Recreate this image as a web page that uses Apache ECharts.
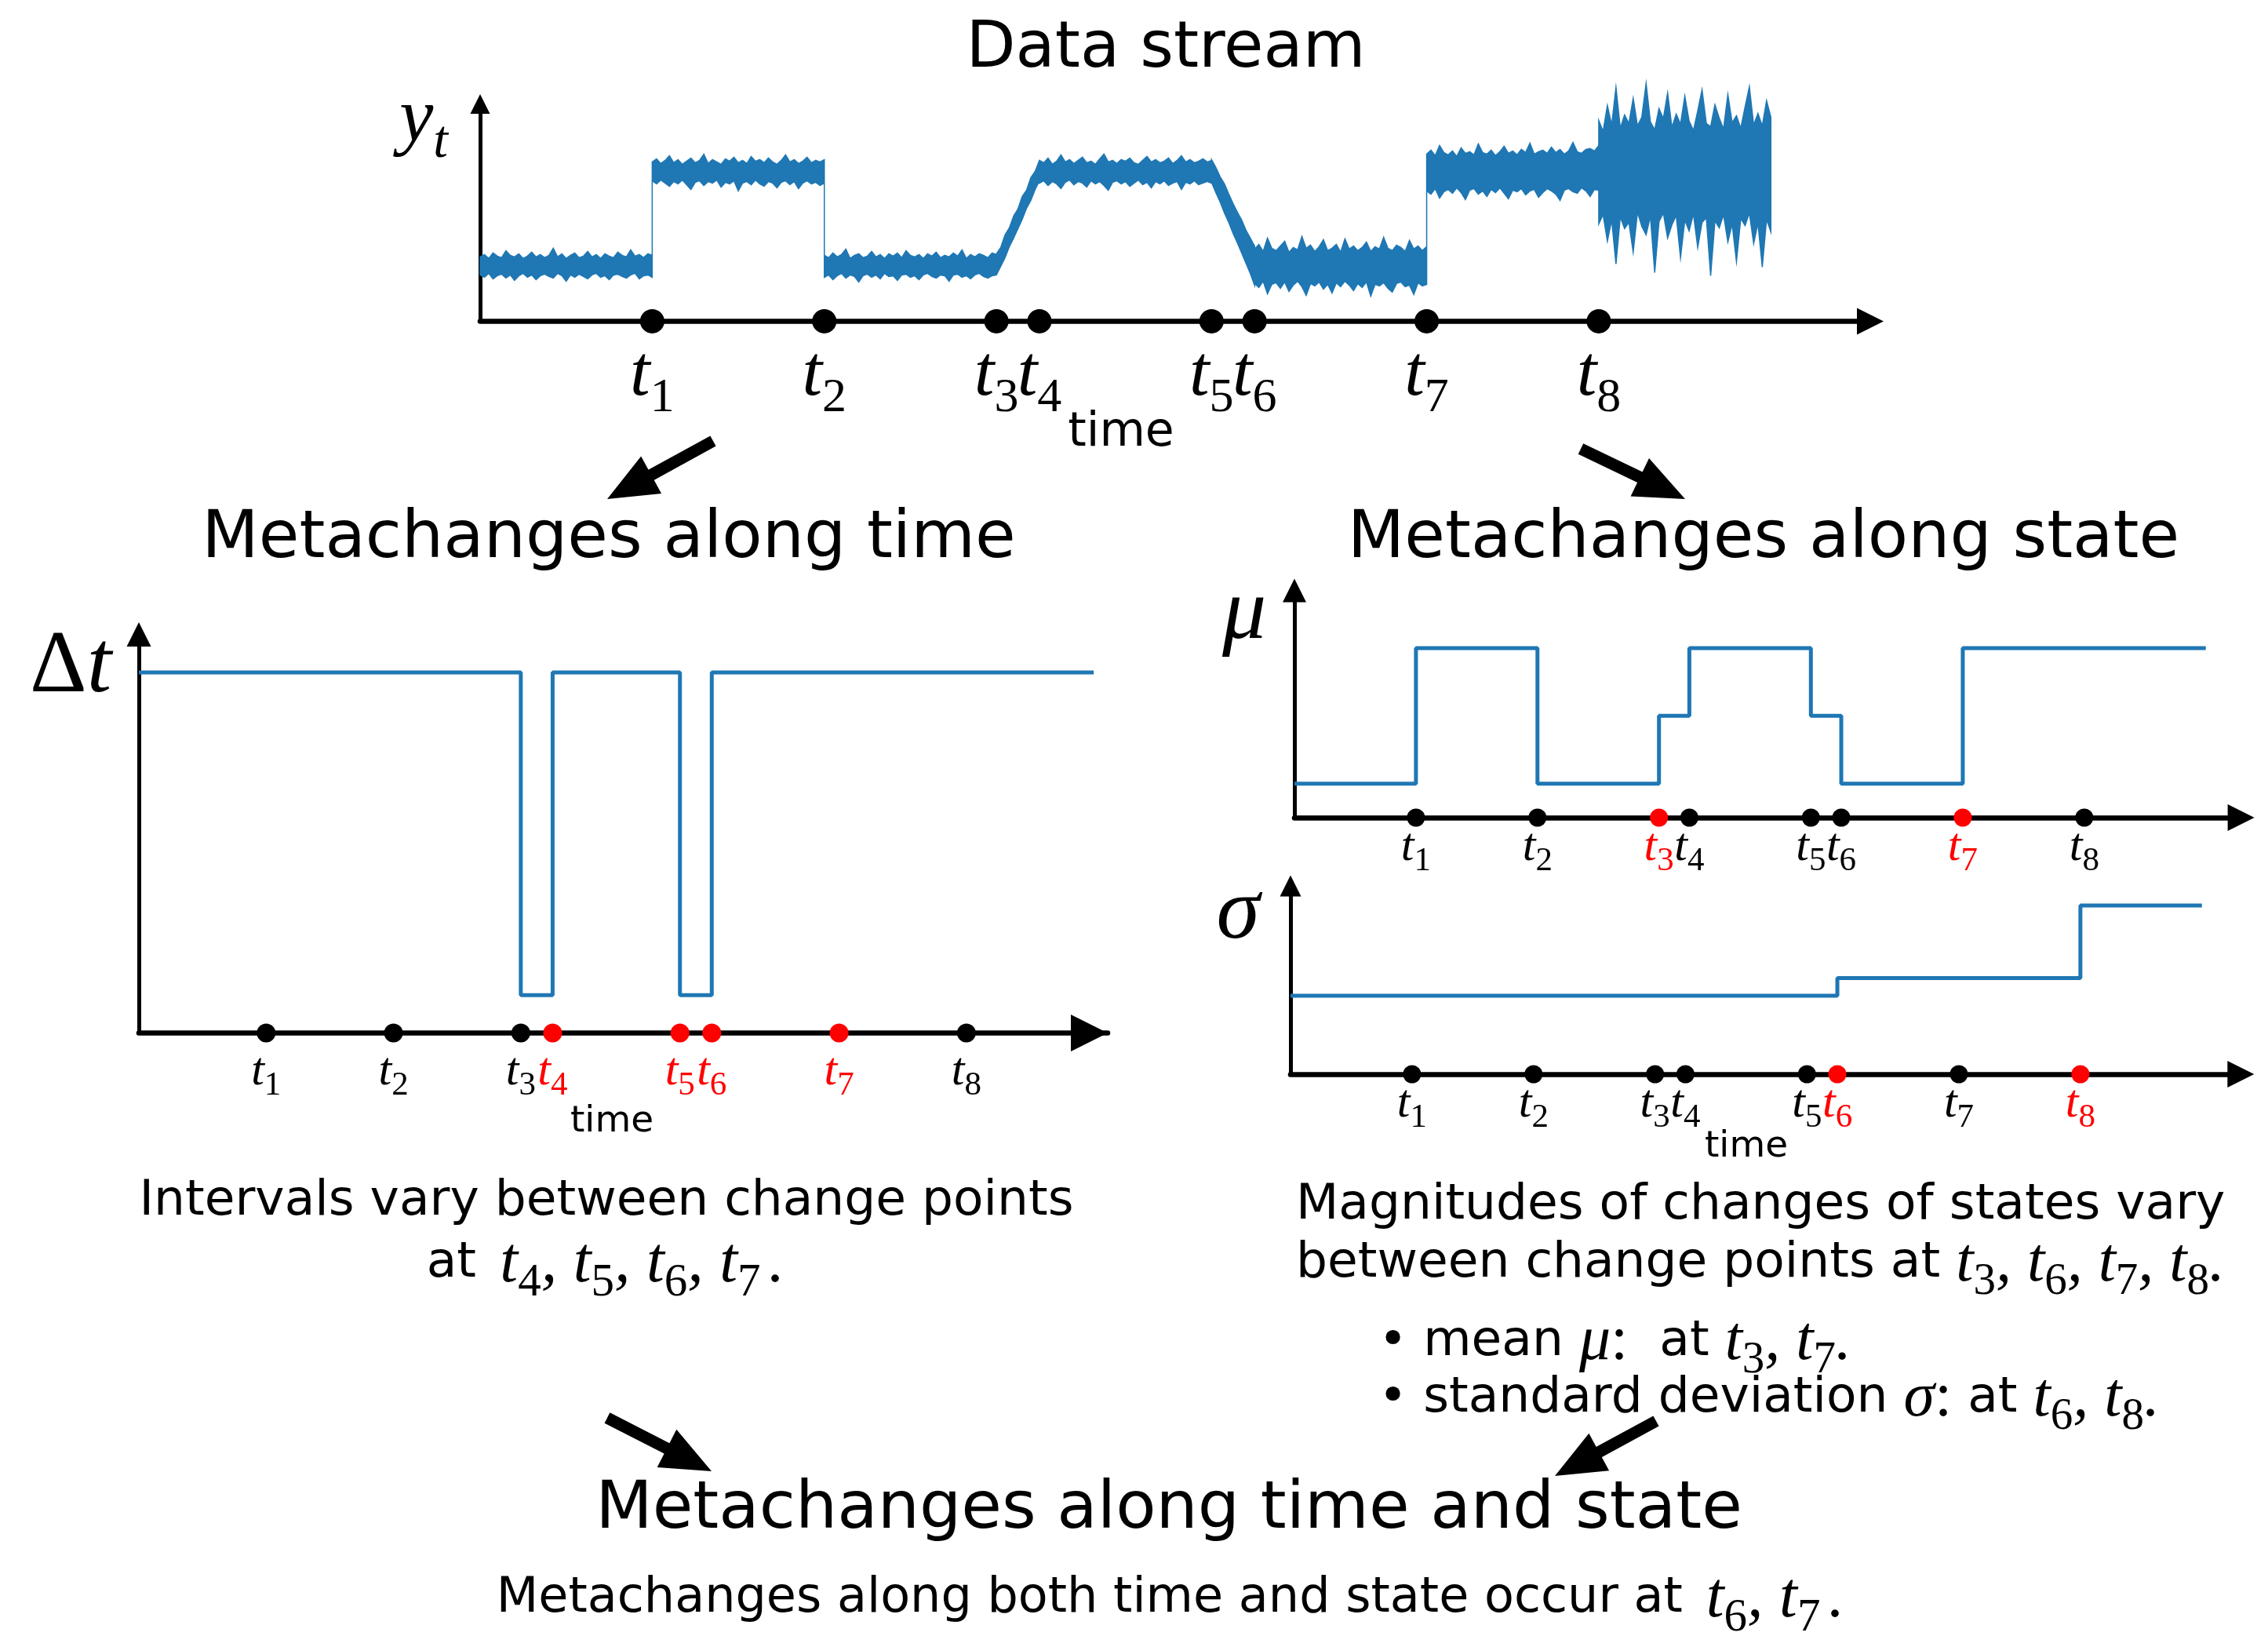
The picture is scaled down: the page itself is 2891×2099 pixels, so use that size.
<!DOCTYPE html>
<html><head><meta charset="utf-8">
<script src="https://cdn.jsdelivr.net/npm/echarts@6/dist/echarts.min.js"></script>
<style>html,body{margin:0;padding:0;background:#fff}#c{width:2891px;height:2099px}</style>
</head><body><div id="c"></div>
<script>
// ================= DATA =================
const changePoints = [1, 2, 3, 3.25, 4.25, 4.5, 5.5, 6.5];
const changeLabels = ['1', '2', '3', '4', '5', '6', '7', '8'];

// Data stream y_t : segments between change points, noise envelope (upper / lower)
const segStart = [0, 1, 2, 3, 3.25, 4.25, 4.5, 5.5, 6.5];
const segEnd   = [1, 2, 3, 3.25, 4.25, 4.5, 5.5, 6.5, 7.5];
const streamUpper = [
  [8.2,8.5,8.0,8.7,8.3,8.1,9.0,8.4,8.2,8.6,8.0,8.3,8.8,8.2,8.5,8.1,8.4,9.3,8.2,8.6,8.0,8.4,8.7,8.1,8.3,8.9,8.2,8.5,8.0,8.6,8.3,8.1,8.8,8.4,8.2,9.1,8.3,8.5,8.1,8.6,8.4],
  [20.3,20.7,20.1,20.5,21.1,20.2,20.6,20.0,20.4,20.8,20.2,20.5,21.3,20.1,20.6,20.3,20.0,20.7,20.4,20.9,20.2,20.5,20.1,21.0,20.4,20.6,20.2,20.8,20.3,20.0,20.5,21.2,20.3,20.6,20.1,20.4,20.9,20.2,20.5,20.3,20.6],
  [8.4,8.1,8.7,8.2,8.5,9.2,8.0,8.4,8.6,8.1,8.3,8.9,8.2,8.5,8.0,8.6,8.3,8.7,8.1,9.0,8.4,8.2,8.5,8.0,8.6,8.3,8.8,8.1,8.4,8.2,8.7,8.3,9.1,8.0,8.5,8.2,8.6,8.4,8.1,8.7,8.5],
  [8.6,9.4,11.0,11.9,13.4,14.3,15.9,16.7,18.3,19.1,20.5],
  [20.5,20.2,20.8,20.0,20.4,21.2,20.3,20.6,20.1,20.5,20.9,20.2,20.4,20.0,20.7,21.3,20.3,20.5,20.1,20.6,20.4,20.8,20.2,20.0,20.5,21.0,20.3,20.6,20.2,20.4,20.8,20.1,20.5,21.1,20.3,20.6,20.2,20.4,20.7,20.3,20.5],
  [20.6,19.6,18.4,17.5,16.2,15.0,13.9,12.9,11.6,10.6,9.6],
  [9.2,9.8,8.9,10.6,9.3,9.0,9.6,10.2,8.8,9.4,9.1,10.8,9.3,9.7,8.9,9.5,10.4,9.0,9.3,9.8,8.8,10.5,9.2,9.6,9.0,9.4,10.1,8.9,9.5,9.2,10.7,9.3,9.0,9.7,9.4,8.9,10.3,9.2,9.6,9.0,9.5],
  [21.3,21.8,21.1,22.4,21.5,21.2,21.7,21.0,22.1,21.4,21.6,21.2,22.6,21.5,21.3,21.8,21.1,21.6,22.3,21.4,21.7,21.2,21.9,21.5,22.7,21.3,21.6,21.8,21.4,22.2,21.5,21.9,21.3,21.7,22.8,21.6,21.4,21.9,22.0,21.7,22.4],
  [25.6,24.2,27.5,25.0,29.8,24.6,26.3,25.2,28.4,24.9,26.0,30.3,25.4,24.4,27.1,25.8,29.1,24.7,26.4,25.1,28.7,25.5,24.3,26.8,29.5,25.2,24.8,27.6,25.9,24.5,28.9,25.3,26.2,24.6,27.3,29.9,25.0,26.5,24.9,28.1,26.0]
];
const streamLower = [
  [5.9,5.6,6.1,5.4,5.8,6.0,5.5,5.9,5.2,5.8,6.1,5.6,5.9,5.3,5.8,6.0,5.7,5.5,6.1,5.8,5.1,5.9,5.6,6.0,5.7,5.4,5.9,6.1,5.6,5.8,5.3,5.9,6.0,5.7,5.5,5.9,6.1,5.4,5.8,5.9,5.6],
  [17.9,17.5,18.0,17.6,17.2,17.8,17.5,18.0,17.4,16.8,17.7,17.9,17.3,17.8,17.6,18.0,17.1,17.7,17.5,17.9,16.6,17.6,17.8,17.4,18.0,17.5,17.2,17.8,17.6,17.0,17.7,17.9,17.4,17.8,16.9,17.6,17.9,17.5,17.7,17.3,17.6],
  [5.6,5.9,5.3,5.8,6.1,5.5,5.9,5.7,5.0,5.8,6.0,5.6,5.9,5.4,6.1,5.7,5.8,5.2,5.9,6.0,5.6,5.8,5.3,5.9,6.1,5.7,5.5,5.9,5.8,5.1,5.9,6.0,5.6,5.8,5.4,5.9,6.1,5.7,5.5,5.8,5.9],
  [5.9,7.0,8.1,9.5,10.6,11.8,13.0,14.4,15.4,16.8,17.9],
  [17.6,17.9,17.3,17.8,17.5,16.9,17.7,18.0,17.4,17.8,17.6,17.1,17.9,17.5,17.8,17.3,16.7,17.7,17.9,17.5,17.8,17.2,17.6,18.0,17.4,17.7,17.0,17.8,17.5,17.9,17.3,17.6,17.8,16.8,17.7,17.5,17.9,17.4,17.6,17.8,17.6],
  [17.7,16.4,15.2,13.8,12.6,11.2,10.0,8.7,7.4,6.1,4.6],
  [4.8,4.3,5.1,3.5,4.7,4.9,4.2,5.0,3.8,4.6,5.1,4.4,3.3,4.8,4.5,5.0,4.1,4.7,3.6,4.9,4.4,5.1,4.6,3.9,4.8,4.3,5.0,3.2,4.7,4.5,4.9,4.2,3.7,4.8,5.0,4.4,4.6,3.4,4.9,4.5,4.7],
  [16.6,16.2,16.9,15.7,16.5,16.8,16.3,17.0,16.4,15.5,16.7,16.9,16.2,16.6,15.9,16.8,16.4,17.0,16.3,15.6,16.7,16.5,16.9,16.1,16.6,16.8,15.8,16.4,16.9,16.6,16.2,15.4,16.7,16.9,16.5,16.3,17.0,16.6,15.9,16.8,16.7],
  [12.4,13.6,10.2,12.9,7.3,13.3,11.8,12.6,8.8,13.9,12.1,11.0,13.4,6.2,12.7,13.8,10.6,12.3,13.5,8.1,12.9,11.5,13.7,9.4,12.6,13.2,5.8,12.8,11.9,13.6,10.1,12.4,7.6,13.1,12.2,13.8,9.9,12.5,6.9,13.0,11.4]
];

// Delta t (interval) step function
const dtTimes  = [0, 3, 3.25, 4.25, 4.5, 7.5];
const dtValues = [1, 0.105, 1, 0.105, 1, 1];
// mean mu step function
const muTimes  = [0, 1, 2, 3, 3.25, 4.25, 4.5, 5.5, 7.5];
const muValues = [0.2, 1, 0.2, 0.6, 1, 0.6, 0.2, 1, 1];
// std sigma step function
const sigmaTimes  = [0, 4.5, 6.5, 7.5];
const sigmaValues = [0.465, 0.57, 1, 1];

// highlighted (red) change points, by index into changePoints
const redTop = [];
const redDt = [3, 4, 5, 6];
const redMu = [2, 6];
const redSigma = [5, 7];

// ================= STYLE HELPERS =================
const BLUE = '#1f77b4', RED = '#ff0000';
const MATH = 'Liberation Serif', SANS = 'DejaVu Sans';
const MID = 0.3375; // baseline offset below 'middle' as a fraction of font size

// F: text size, M: math size, S: subscript size, shift: subscript baseline drop (px)
function richSet(F, M, S, shift) {
  const LH = Math.round(Math.max(F, M) * 1.3);
  const SLH = Math.max(4, LH - 2 * (shift + MID * (M - S)));
  const mk = (c) => ({
    txt: {fontFamily: SANS, fontSize: F, lineHeight: LH, color: c},
    up: {fontFamily: MATH, fontSize: M, lineHeight: LH, color: c},
    m: {fontFamily: MATH, fontStyle: 'italic', fontSize: M, lineHeight: LH, color: c},
    sp: {fontFamily: MATH, fontSize: Math.round(M * 0.5), lineHeight: LH, color: c},
    s: {fontFamily: MATH, fontSize: S, lineHeight: SLH, verticalAlign: 'bottom', color: c},
    si: {fontFamily: MATH, fontStyle: 'italic', fontSize: S, lineHeight: SLH, verticalAlign: 'bottom', color: c}
  });
  const b = mk('#000'), r = mk(RED);
  return {txt: b.txt, up: b.up, m: b.m, sp: b.sp, s: b.s, si: b.si, mr: r.m, sr: r.s};
}
function ts(n, red) { return red ? '{mr|t}{sr|' + n + '}' : '{m|t}{s|' + n + '}'; }

const TRI = 'path://M50,0 L100,100 L0,100 Z';

function axisPair(gi, xmax, ymax, xw, xarrow, yw, yarrow, xTipAtEnd) {
  return {
    x: {type: 'value', gridIndex: gi, min: 0, max: xmax,
      axisLine: {show: true, onZero: false, symbol: ['none', TRI], symbolSize: xarrow,
        symbolOffset: [0, xTipAtEnd ? -xarrow[1] / 2 : xarrow[1] / 2],
        lineStyle: {color: '#000', width: xw}},
      axisTick: {show: false}, axisLabel: {show: false}, splitLine: {show: false}},
    y: {type: 'value', gridIndex: gi, min: 0, max: ymax,
      axisLine: {show: true, onZero: false, symbol: ['none', TRI], symbolSize: yarrow, symbolOffset: [0, yarrow[1] / 2],
        lineStyle: {color: '#000', width: yw}},
      axisTick: {show: false}, axisLabel: {show: false}, splitLine: {show: false}}
  };
}

const A0 = axisPair(0, 8.0, 26.44, 6.5, [41, 34], 5, [31, 25]);
const A1 = axisPair(1, 7.61, 1.072, 6.5, [52, 47], 5, [36, 31], true);
const A2 = axisPair(2, 7.68, 1.27, 6.5, [36, 34], 5, [34, 30]);
const A3 = axisPair(3, 7.71, 1.053, 6.5, [36, 34], 5, [31, 27]);

function dots(gi, redList, size, M, S, shift, dist) {
  const R = richSet(M, M, S, shift);
  return {
    type: 'scatter', xAxisIndex: gi, yAxisIndex: gi, clip: false, z: 5,
    symbolSize: size,
    data: changePoints.map((t, i) => ({
      value: [t, 0],
      itemStyle: {color: redList.indexOf(i) >= 0 ? RED : '#000', opacity: 1}
    })),
    label: {show: true, position: 'bottom', distance: dist, rich: R,
      formatter: (p) => ts(changeLabels[p.dataIndex], redList.indexOf(p.dataIndex) >= 0)}
  };
}

function stepLine(gi, times, vals) {
  return {type: 'line', xAxisIndex: gi, yAxisIndex: gi, step: 'end', clip: false, symbol: 'none',
    data: times.map((t, i) => [t, vals[i]]),
    lineStyle: {color: BLUE, width: 5}, z: 3};
}

const streamSeries = {
  type: 'custom', xAxisIndex: 0, yAxisIndex: 0, clip: false, z: 3,
  data: [0],
  renderItem: function (params, api) {
    const pts = [];
    for (let k = 0; k < segStart.length; k++) {
      const up = streamUpper[k], n = up.length;
      for (let i = 0; i < n; i++) {
        const t = segStart[k] + (segEnd[k] - segStart[k]) * i / (n - 1);
        pts.push(api.coord([t, up[i]]));
      }
    }
    for (let k = segStart.length - 1; k >= 0; k--) {
      const lo = streamLower[k], n = lo.length;
      for (let i = n - 1; i >= 0; i--) {
        const t = segStart[k] + (segEnd[k] - segStart[k]) * i / (n - 1);
        pts.push(api.coord([t, lo[i]]));
      }
    }
    return {type: 'polygon', shape: {points: pts}, style: {fill: BLUE, stroke: BLUE, lineWidth: 1.5}};
  }
};

// ================= TEXT =================
function txt(x, y, text, F, align) {
  return {type: 'text', x: x, y: y, z: 10, style: {text: text, font: F + 'px "' + SANS + '"', fill: '#000',
    align: align || 'center', verticalAlign: 'middle', textAlign: align || 'center', textVerticalAlign: 'middle'}};
}
function rtxt(x, y, text, R, align) {
  return {type: 'text', x: x, y: y, z: 10, style: {text: text, rich: R,
    fill: '#000',
    align: align || 'center', verticalAlign: 'middle', textAlign: align || 'center', textVerticalAlign: 'middle'}};
}
function arrow(x1, y1, x2, y2) {
  const dx = x2 - x1, dy = y2 - y1, L = Math.hypot(dx, dy), ux = dx / L, uy = dy / L;
  const hl = 64, hw = 27;
  const bx = x2 - ux * hl, by = y2 - uy * hl;
  return [
    {type: 'line', z: 10, shape: {x1: x1, y1: y1, x2: bx + ux * 6, y2: by + uy * 6}, style: {stroke: '#000', lineWidth: 15}},
    {type: 'polygon', z: 10, shape: {points: [[x2, y2], [bx - uy * hw, by + ux * hw], [bx + uy * hw, by - ux * hw]]}, style: {fill: '#000'}}
  ];
}

const R63 = richSet(63, 80, 57, 12);
const R63b = richSet(63, 82, 59, 12);
const R62 = richSet(62, 82, 59, 12);
const graphics = [
  txt(1486, 64, 'Data stream', 82),
  txt(1429, 552, 'time', 60),
  txt(776, 688, 'Metachanges along time', 84),
  txt(2248, 688, 'Metachanges along state', 84),
  txt(780, 1430, 'time', 47),
  txt(2226, 1462, 'time', 47),
  txt(773, 1532, 'Intervals vary between change points', 63),
  rtxt(772, 1611, '{txt|at }{sp| }' + ts(4) + '{m|, }' + ts(5) + '{m|, }' + ts(6) + '{m|, }' + ts(7) + '{sp| }{m|.}', R63b),
  txt(1652, 1537, 'Magnitudes of changes of states vary', 63, 'left'),
  rtxt(1652, 1611, '{txt|between change points at }' + ts(3) + '{m|, }' + ts(6) + '{m|, }' + ts(7) + '{m|, }' + ts(8) + '{m|.}', R63, 'left'),
  rtxt(1757, 1711, '{txt|• mean }{m|μ}{up|:}{txt|  at }' + ts(3) + '{m|, }' + ts(7) + '{m|.}', R63, 'left'),
  rtxt(1757, 1783, '{txt|• standard deviation }{m|σ}{up|:}{txt| at }' + ts(6) + '{m|, }' + ts(8) + '{m|.}', R63, 'left'),
  txt(1490, 1925, 'Metachanges along time and state', 84),
  rtxt(1492, 2038, '{txt|Metachanges along both time and state occur at }{sp| }' + ts(6) + '{m|, }' + ts(7) + '{sp| }{m|.}', R62),
  rtxt(540, 153, '{m|y}{si|t}', richSet(97, 97, 67, 6)),
  rtxt(90, 851, '{up|Δ}{m|t}', richSet(113, 113, 80, 10)),
  rtxt(1586, 784, '{m|μ}', richSet(112, 112, 80, 10)),
  rtxt(1578, 1166, '{m|σ}', richSet(112, 112, 80, 10))
].concat(
  arrow(909, 562, 774, 636),
  arrow(2015, 572, 2148, 636),
  arrow(774, 1807, 907, 1875),
  arrow(2111, 1811, 1982, 1881)
);

// ================= CHART =================
const chart = echarts.init(document.getElementById('c'), null, {renderer: 'canvas'});
chart.setOption({
  animation: false,
  backgroundColor: '#fff',
  grid: [
    {left: 612, top: 145, width: 1755, height: 264.4},
    {left: 177, top: 824, width: 1235, height: 492.6},
    {left: 1650, top: 767.6, width: 1189.6, height: 274.4},
    {left: 1645, top: 1142.6, width: 1194.3, height: 226.4}
  ],
  xAxis: [A0.x, A1.x, A2.x, A3.x],
  yAxis: [A0.y, A1.y, A2.y, A3.y],
  series: [
    streamSeries,
    dots(0, redTop, 31, 92, 62, 13, -6),
    stepLine(1, dtTimes, dtValues),
    dots(1, redDt, 24, 60, 43, 10, -1),
    stepLine(2, muTimes, muValues),
    dots(2, redMu, 23, 60, 43, 10, -12),
    stepLine(3, sigmaTimes, sigmaValues),
    dots(3, redSigma, 23, 60, 43, 10, -12)
  ],
  graphic: {elements: graphics}
});
</script></body></html>
